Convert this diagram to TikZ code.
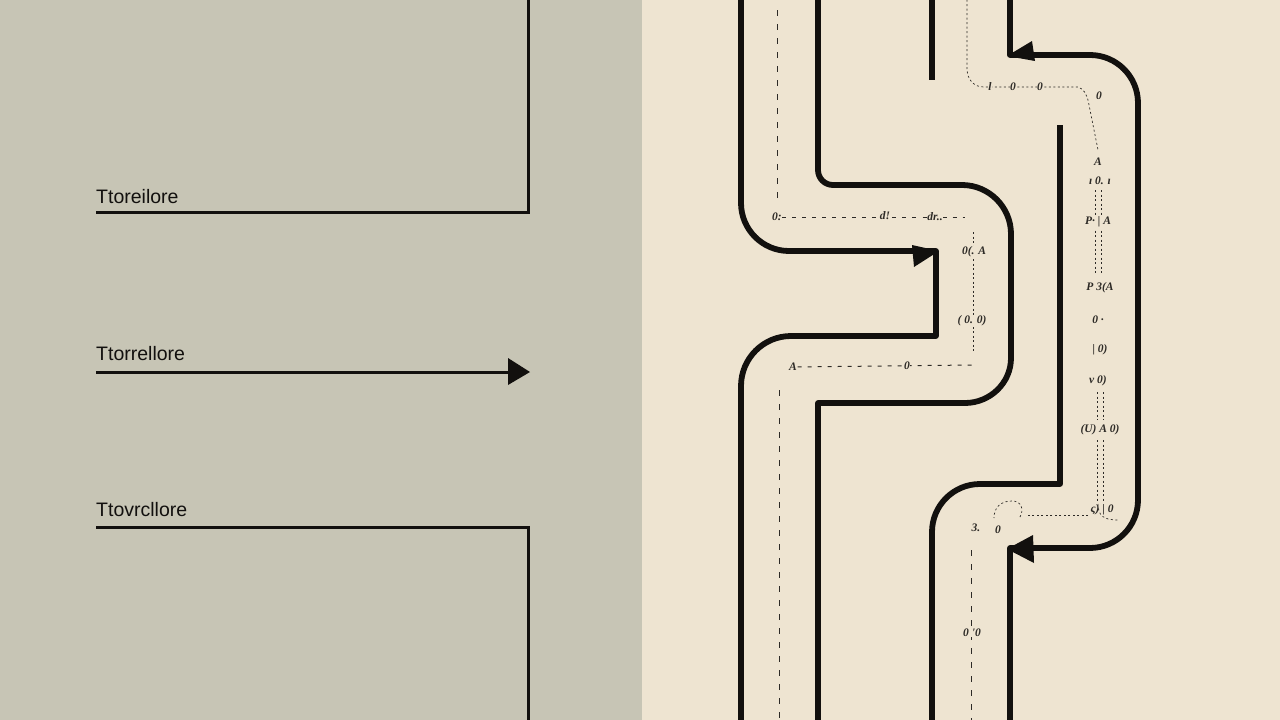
\documentclass[tikz,border=0pt]{standalone}
\usepackage{fontspec}
\setmainfont{Liberation Sans}
\newfontfamily\garbfont{Liberation Serif}
\definecolor{leftbg}{RGB}{199,197,181}
\definecolor{rightbg}{RGB}{238,228,209}
\definecolor{ink}{RGB}{18,16,14}
\definecolor{faint}{RGB}{45,42,38}
\tikzset{
  thinline/.style={draw=ink,line width=3pt},
  road/.style={draw=ink,line width=5.8pt,line cap=butt,line join=round},
  tiphead/.style={fill=ink,draw=none},
  centerdash/.style={draw=faint,line width=1pt,dash pattern=on 6pt off 8pt},
  dotline/.style={draw=faint,line width=0.7pt,dash pattern=on 2pt off 2.5pt},
  lbl/.style={inner sep=0pt,anchor=base west,text=ink,font=\fontsize{19.5}{22}\selectfont},
  garb/.style={inner sep=0.5pt,text=faint,font=\garbfont\itshape\bfseries\fontsize{11.5}{12}\selectfont,fill=rightbg}
}
\begin{document}
\begin{tikzpicture}[x=1pt,y=-1pt]
\useasboundingbox (0,0) rectangle (1280,720);
\clip (0,0) rectangle (1280,720);
\fill[leftbg] (0,0) rectangle (642,720);
\fill[rightbg] (642,0) rectangle (1280,720);

% ---------- left panel ----------
\node[lbl] (t1) at (96,203) {Ttoreilore};
\node[lbl] (t2) at (96,360) {Ttorrellore};
\node[lbl] (t3) at (96,516) {Ttovrcllore};
\coordinate (l1a) at (96,212);
\coordinate (l1b) at (528,212);
\coordinate (l1c) at (528,-5);
\coordinate (l2a) at (96,372);
\coordinate (l2b) at (512,372);
\coordinate (l3a) at (96,527);
\coordinate (l3b) at (528,527);
\coordinate (l3c) at (528,725);
\draw[thinline] (l1a) -- (l1b) -- (l1c);
\draw[thinline] (l2a) -- (l2b);
\fill[tiphead] (508,358) -- (530,372) -- (508,385) -- cycle;
\draw[thinline] (l3a) -- (l3b) -- (l3c);

% ---------- right panel: roads ----------
% outer left road edge
\draw[road] (741,-5) -- (741,203)
  .. controls (741,229.5) and (762.5,251) .. (789,251) -- (936,251) -- (936,336)
  -- (791,336) .. controls (763.4,336) and (741,358.4) .. (741,386) -- (741,725);
\fill[tiphead] (912,245) -- (939,251) -- (914,267) -- cycle;
% inner left road edge
\draw[road] (818,-5) -- (818,170)
  .. controls (818,178.3) and (824.7,185) .. (833,185) -- (962,185)
  .. controls (989,185) and (1011,207) .. (1011,234) -- (1011,358)
  .. controls (1011,383) and (990,403) .. (965,403) -- (818,403) -- (818,725);
% short stub
\draw[road] (932,-5) -- (932,80);
% outer right road edge
\draw[road] (1010,-5) -- (1010,55) -- (1090,55)
  .. controls (1116.5,55) and (1138,76.5) .. (1138,103) -- (1138,500)
  .. controls (1138,526.5) and (1116.5,548) .. (1090,548) -- (1010,548) -- (1010,725);
\fill[tiphead] (1007,56) -- (1032,41) -- (1035,61) -- cycle;
\fill[tiphead] (1007,549) -- (1033,535) -- (1034,563) -- cycle;
% inner right road edge
\draw[road] (1060,125) -- (1060,484) -- (980,484)
  .. controls (953.5,484) and (932,505.5) .. (932,532) -- (932,725);

% ---------- dashed centre lines, left road ----------
\draw[centerdash] (777,10) -- (777,200);
\node[garb] (a1) at (777,217) {0:};
\coordinate (a1e) at (965,217);
\draw[centerdash,dash pattern=on 4pt off 6pt] (a1) -- (a1e);
\node[garb] (a2) at (885,216) {d!};
\node[garb] (a3) at (935,217) {dr..};
\coordinate (b0) at (973,232);
\coordinate (b1) at (973,352);
\draw[dotline] (b0) -- (b1);
\node[garb] (b2) at (974,252) {0(. A};
\node[garb] (b3) at (972,321) {( 0. 0)};
\node[garb] (c1) at (793,367) {A};
\coordinate (c1e) at (972,365);
\draw[centerdash,dash pattern=on 4pt off 6pt] (c1) -- (c1e);
\node[garb] (c2) at (907,366) {0};
\draw[centerdash] (779,390) -- (779,725);

% ---------- dotted guide, right road ----------
\draw[dotline] (967,-5) -- (967,68) .. controls (967,80) and (974,87) .. (984,87) -- (1078,87)
  .. controls (1084,89) and (1086,94) .. (1088,100) -- (1098,150);
\node[garb] (d1) at (990,87) {l};
\node[garb] (d2) at (1013,87) {0};
\node[garb] (d3) at (1040,87) {0};
\node[garb] (d4) at (1099,96) {0};
\node[garb] (e1) at (1098,162) {A};
\node[garb] (e2) at (1100,181) {ı 0. ı};
\draw[dotline] (1095,190) -- (1095,275);
\draw[dotline] (1101,190) -- (1101,275);
\node[garb] (e3) at (1098,222) {P· | A};
\node[garb] (e4) at (1100,288) {P 3(A};
\node[garb] (e5) at (1098,320) {0 ·};
\node[garb] (e6) at (1100,350) {| 0)};
\node[garb] (e7) at (1098,381) {v 0)};
\draw[dotline] (1097,392) -- (1097,420);
\draw[dotline] (1103,392) -- (1103,420);
\node[garb] (e8) at (1100,430) {(U) A 0)};
\draw[dotline] (1097,440) -- (1097,502);
\draw[dotline] (1103,440) -- (1103,502);
\node[garb] (e9) at (1102,510) {ς) | 0};
\draw[dotline] (1098,504) .. controls (1098,516) and (1104,520) .. (1118,520);
\coordinate (f0) at (1088,515);
\coordinate (f1) at (1026,515);
\draw[dotline] (f0) -- (f1);
\draw[dotline] (1020,517) .. controls (1024,510) and (1022,501) .. (1012,501)
  .. controls (1000,501) and (994,508) .. (994,518);
\node[garb] (f2) at (976,528) {3.};
\node[garb] (f3) at (998,530) {0};
\draw[centerdash] (971,550) -- (971,725);
\node[garb] (f4) at (972,633) {0 '0};
\end{tikzpicture}
\end{document}
